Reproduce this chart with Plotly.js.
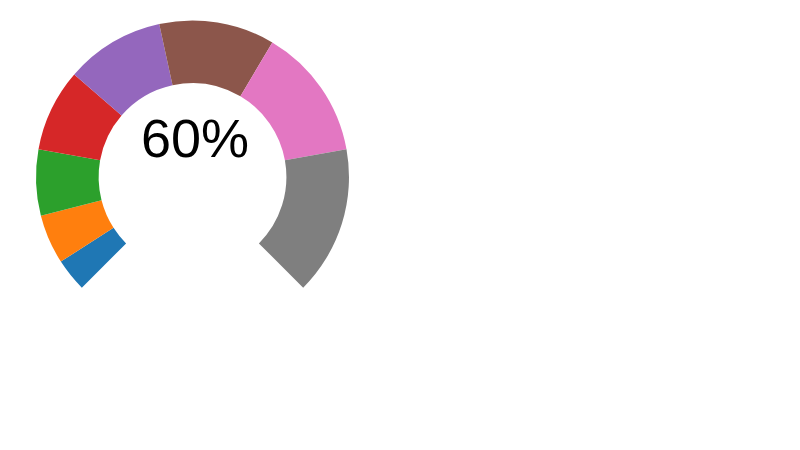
<!DOCTYPE html>
<html>
<head>
<meta charset="utf-8">
<script src="https://cdn.plot.ly/plotly-3.0.1.min.js"></script>
<style>body{margin:0;padding:0;background:#fff;} #chart{width:800px;height:450px;}</style>
</head>
<body>
<div id="chart"></div>
<script>
var labels = ["A", "B", "C", "D", "E", "F", "G", "H", "hidden"];
var values = [2, 3, 4, 5, 6, 7, 8, 9, 14.67];
var colors = ["#1f77b4", "#ff7f0e", "#2ca02c", "#d62728", "#9467bd", "#8c564b", "#e377c2", "#7f7f7f", "rgba(255,255,255,0)"];
var centerText = "60%";

var trace = {
  type: "pie",
  labels: labels,
  values: values,
  marker: {colors: colors, line: {width: 0}},
  hole: 0.6,
  sort: false,
  direction: "clockwise",
  rotation: 225,
  textinfo: "none",
  hoverinfo: "none",
  showlegend: false,
  domain: {x: [0, 0.48125], y: [0.2589, 0.9544]}
};

var layout = {
  width: 800,
  height: 450,
  margin: {l: 0, r: 0, t: 0, b: 0},
  paper_bgcolor: "#fff",
  plot_bgcolor: "#fff",
  showlegend: false,
  font: {family: "Liberation Sans, Arial, sans-serif"},
  annotations: [{
    text: centerText,
    x: 0.24375, y: 0.693,
    xref: "paper", yref: "paper",
    xanchor: "center", yanchor: "middle",
    showarrow: false,
    font: {size: 54, color: "#000", family: "Liberation Sans, Arial, sans-serif"}
  }]
};

Plotly.newPlot("chart", [trace], layout, {staticPlot: true});
</script>
</body>
</html>
